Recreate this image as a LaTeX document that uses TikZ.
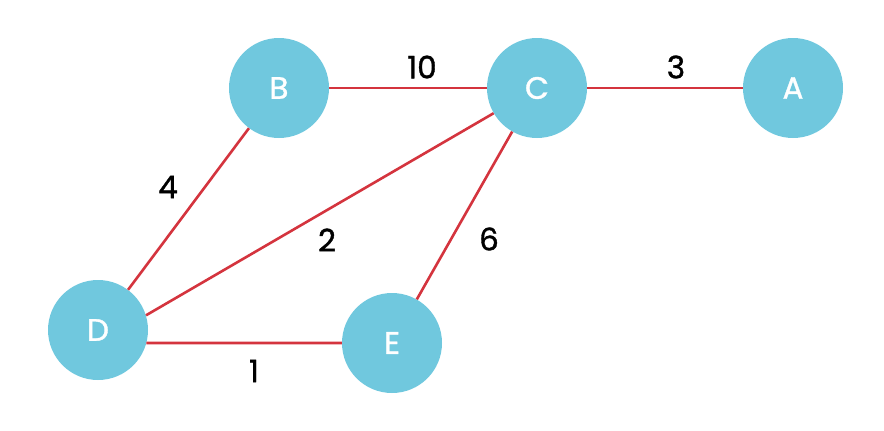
\documentclass[tikz,border=0pt]{standalone}
\usepackage{fontspec}
\setmainfont{Poppins}
\newfontfamily\medfont{Poppins}[FakeBold=1.2]
\usepackage{tikz}
\definecolor{nodeblue}{RGB}{112,200,222}
\definecolor{edgered}{RGB}{212,52,62}
\tikzset{
  vertex/.style={circle,fill=nodeblue,minimum size=100pt,inner sep=0pt,
    text=white,font=\medfont\fontsize{31}{33}\selectfont},
  edge/.style={draw=edgered,line width=2.6pt},
  weight/.style={font=\medfont\fontsize{31}{33}\selectfont,text=black}
}

\begin{document}
\begin{tikzpicture}[x=1pt,y=1pt]
\useasboundingbox (0,0) rectangle (884,-431);
% vertices
\node[vertex] (B) at (279,-88) {B};
\node[vertex] (C) at (537,-88) {C};
\node[vertex] (A) at (793,-88) {A};
\node[vertex] (D) at (98,-330) {D};
\node[vertex] (E) at (392,-343) {E};
% edges
\draw[edge] (B) -- (C);
\draw[edge] (C) -- (A);
\draw[edge] (B) -- (D);
\draw[edge] (C) -- (D.17);
\draw[edge] (C) -- (E);
\draw[edge] (D.-15) -- (E.west);
% weights
\node[weight] (w10) at (422,-67) {10};
\node[weight] (w3) at (676,-67) {3};
\node[weight] (w4) at (168,-187) {4};
\node[weight] (w2) at (327,-240) {2};
\node[weight] (w6) at (489,-239) {6};
\node[weight] (w1) at (254,-371) {1};
\end{tikzpicture}
\end{document}
